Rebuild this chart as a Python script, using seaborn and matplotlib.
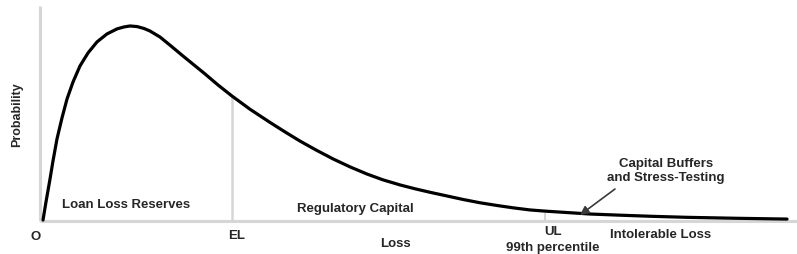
import pandas as pd
import matplotlib.pyplot as plt
import seaborn as sns

# loss distribution curve (loss 0-100, probability scaled to peak = 1)
loss = [0.0, 0.40, 0.94, 1.34, 1.88, 2.55, 3.23, 4.03, 4.97, 6.05,
        7.26, 8.60, 9.95, 10.89, 11.69, 12.63, 13.58, 14.38, 15.73, 17.20,
        18.82, 20.30, 21.77, 23.52, 25.40, 27.82, 30.51, 32.53, 34.54, 36.69,
        38.98, 41.26, 43.55, 45.70, 47.98, 50.00, 52.02, 54.30, 56.45, 58.74,
        61.02, 63.17, 65.46, 67.47, 69.49, 73.52, 77.55, 81.99, 86.56, 93.28,
        100.0]
probability = [0.0, 0.093, 0.211, 0.304, 0.418, 0.526, 0.624, 0.711, 0.794, 0.861,
               0.918, 0.959, 0.985, 0.995, 1.0, 0.997, 0.987, 0.974, 0.943, 0.897,
               0.845, 0.799, 0.753, 0.696, 0.639, 0.571, 0.503, 0.454, 0.407, 0.361,
               0.315, 0.274, 0.237, 0.207, 0.181, 0.161, 0.143, 0.124, 0.106, 0.089,
               0.075, 0.063, 0.052, 0.046, 0.041, 0.031, 0.025, 0.019, 0.014, 0.009,
               0.005]

el_loss = 25.4
el_prob = 0.639
ul_loss = 67.5
ul_tick = 0.031

W, H = 797, 255
sns.set_style("white")
plt.rcParams["font.family"] = ["Liberation Sans", "DejaVu Sans"]

df = pd.DataFrame({"loss": loss, "probability": probability})

fig = plt.figure(figsize=(W / 100, H / 100), dpi=100)
ax = fig.add_axes([0, 0, 1, 1])

# axis lines
axis_col = "#d6d6d6"
ax.plot([-0.4, -0.4], [-0.004, 1.103], color=axis_col, lw=2.2, solid_capstyle="butt")
ax.plot([-0.4, 102], [-0.004, -0.004], color=axis_col, lw=2.2, solid_capstyle="butt")
ax.plot([el_loss, el_loss], [0, el_prob], color=axis_col, lw=1.8)
ax.plot([ul_loss, ul_loss], [0, ul_tick], color=axis_col, lw=1.5)

sns.lineplot(data=df, x="loss", y="probability", color="black", lw=2.3, ax=ax,
             legend=False, solid_joinstyle="round", solid_capstyle="round")

ax.set_xlim(-5.78, 101.34)
ax.set_ylim(-0.175, 1.139)
ax.axis("off")


def label(px, py, s, **kw):
    ax.text(px / W, 1 - py / H, s, transform=ax.transAxes, fontsize=9.5,
            fontweight="bold", ha="center", va="baseline", **kw)


ax.text(17 / W, 1 - 115 / H, "Probability", transform=ax.transAxes, fontsize=9,
        fontweight="bold", rotation=90, ha="center", va="center")
label(126, 208, "Loan Loss Reserves")
label(355, 212, "Regulatory Capital")
label(395, 247, "Loss")
label(36, 240.5, "O")
label(236.5, 239, "EL")
label(553, 235, "UL")
label(553, 251.5, "99th percentile")
label(661, 238, "Intolerable Loss")
label(666, 167, "Capital Buffers")
label(666, 181, "and Stress-Testing")

ax.annotate("", xy=(580 / W, 1 - 216 / H), xytext=(615 / W, 1 - 190 / H),
            xycoords="axes fraction", textcoords="axes fraction",
            arrowprops=dict(arrowstyle="-|>", color="#3a3a3a", lw=1.2,
                            mutation_scale=13, shrinkA=0, shrinkB=0))

fig.savefig("out.png", dpi=100)
